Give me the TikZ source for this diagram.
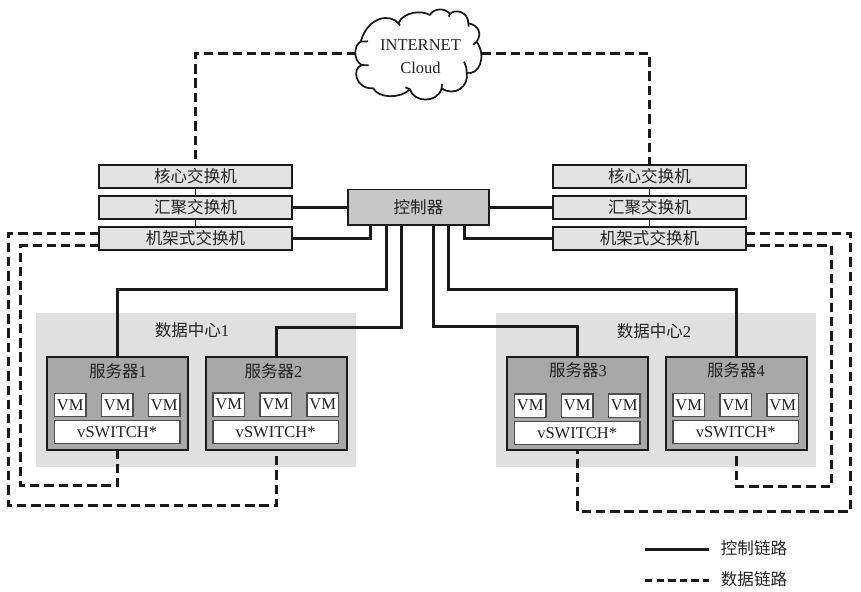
\documentclass[tikz,border=0pt]{standalone}
\usepackage{fontspec}
\setmainfont{Liberation Serif}
\newfontfamily\cjkf{Noto Sans CJK SC}
\newcommand{\zh}[1]{{\cjkf #1}}
\definecolor{ink}{HTML}{1A1A1A}
\definecolor{txt}{HTML}{222222}
\tikzset{
  sz/.style 2 args={minimum width=#1*0.75pt,minimum height=#2*0.75pt,inner sep=0pt,outer sep=0pt},
  sw/.style={draw=ink,line width=1.6pt,fill=#1,sz={193}{23},text=txt,font=\fontsize{12.4}{14}\selectfont},
  sw/.default={black!11},
  ctrlbox/.style={draw=ink,line width=1.3pt,fill=black!22,sz={141}{35.5},text=txt,font=\fontsize{12.4}{14}\selectfont},
  region/.style={fill=black!12,draw=none,sz={319.5}{153.5}},
  server/.style={draw=ink,line width=1.5pt,fill=black!34,sz={141}{93}},
  vm/.style={draw=black!70,line width=0.9pt,fill=white,sz={31.5}{23.3},text=txt,font=\fontsize{12.4}{14}\selectfont},
  vsw/.style={draw=black!70,line width=0.9pt,fill=white,sz={125.5}{23},text=txt,font=\fontsize{12.4}{14}\selectfont},
  lab/.style={text=txt,inner sep=0pt,font=\fontsize{12.4}{14}\selectfont},
  ctl/.style={draw=ink,line width=2.2pt,line join=miter},
  dat/.style={draw=ink,line width=2.2pt,dash pattern=on 7pt off 3.7pt,line join=miter},
  thin/.style={draw=ink,line width=0.6pt}
}
\begin{document}
\begin{tikzpicture}[x=0.75pt,y=-0.75pt]
\useasboundingbox (0,0) rectangle (861,592);
\fill[white] (0,0) rectangle (861,592);

% regions
\node[region] (dc1) at (195.75,389.75) {};
\node[region] (dc2) at (655.85,390) {};
\node[lab] (dc1t) at (192,330.5) {\zh{数据中心}1};
\node[lab] (dc2t) at (654,331) {\zh{数据中心}2};

% switches
\node[sw] (c1) at (195.5,176.5) {\zh{核心交换机}};
\node[sw] (a1) at (195.5,207.5) {\zh{汇聚交换机}};
\node[sw] (r1) at (195.5,238.5) {\zh{机架式交换机}};
\node[sw] (c2) at (649.5,176.5) {\zh{核心交换机}};
\node[sw] (a2) at (649.5,207.5) {\zh{汇聚交换机}};
\node[sw] (r2) at (649.5,238.5) {\zh{机架式交换机}};
\node[ctrlbox] (ctrl) at (418.5,207.3) {\zh{控制器}};

% servers
\node[server] (s1) at (117.5,403.5) {};
\node[server] (s2) at (276.5,403.5) {};
\node[server] (s3) at (577.5,403.5) {};
\node[server] (s4) at (736.5,403.5) {};
\node[lab] (s1t) at (118,371.5) {\zh{服务器}1};
\node[lab] (s2t) at (273.5,371) {\zh{服务器}2};
\node[lab] (s3t) at (578,370.5) {\zh{服务器}3};
\node[lab] (s4t) at (736,370.5) {\zh{服务器}4};

\node[vm] (v11) at (70.2,405.2) {VM};
\node[vm] (v12) at (117.2,405.2) {VM};
\node[vm] (v13) at (164.2,405.2) {VM};
\node[vsw] (w1) at (117.2,432.2) {vSWITCH*};
\node[vm] (v21) at (228.7,404.7) {VM};
\node[vm] (v22) at (275.7,404.7) {VM};
\node[vm] (v23) at (322.7,404.7) {VM};
\node[vsw] (w2) at (275.7,431.7) {vSWITCH*};
\node[vm] (v31) at (530.2,405.7) {VM};
\node[vm] (v32) at (577.2,405.7) {VM};
\node[vm] (v33) at (624.2,405.7) {VM};
\node[vsw] (w3) at (577.2,432.7) {vSWITCH*};
\node[vm] (v41) at (688.7,405.2) {VM};
\node[vm] (v42) at (735.7,405.2) {VM};
\node[vm] (v43) at (782.7,405.2) {VM};
\node[vsw] (w4) at (735.7,432.2) {vSWITCH*};

% cloud
\begin{scope}[shift={(340,0)},x=0.25pt,y=-0.25pt]
\draw[ink,line width=1.3pt,fill=white,line join=round]
 (62,125) .. controls (42,135) and (38,180) .. (65,195)
 .. controls (35,205) and (45,268) .. (100,265)
 .. controls (115,295) and (180,297) .. (210,268)
 .. controls (220,307) and (292,312) .. (305,265)
 .. controls (345,292) and (388,258) .. (380,218)
 .. controls (415,228) and (442,172) .. (410,125)
 .. controls (427,100) and (415,75) .. (385,70)
 .. controls (385,35) and (345,25) .. (330,42)
 .. controls (315,22) and (280,25) .. (270,45)
 .. controls (245,30) and (190,35) .. (175,70)
 .. controls (155,42) and (85,45) .. (62,125) -- cycle;
\draw[ink,line width=1.3pt] (62,125) -- (84,124);
\draw[ink,line width=1.3pt] (65,195) -- (86,196);
\draw[ink,line width=1.3pt] (175,70) -- (180,76);
\draw[ink,line width=1.3pt] (210,268) -- (196,262);
\draw[ink,line width=1.3pt] (305,265) -- (306,252);
\draw[ink,line width=1.3pt] (380,218) .. controls (380,205) and (378,195) .. (372,185);
\draw[ink,line width=1.3pt] (410,125) -- (400,134);
\draw[ink,line width=1.3pt] (385,70) -- (386,80);
\draw[ink,line width=1.3pt] (330,42) -- (326,50);
\end{scope}
\node[lab,align=center,font=\fontsize{12.4}{17.25}\selectfont] (cloud) at (420.5,56.5) {INTERNET\\Cloud};
\coordinate (cl) at (356,53.5);
\coordinate (cr) at (482,53.5);

% elbows
\coordinate (e1) at (117.5,289.5);
\coordinate (e2) at (276.5,327.5);
\coordinate (e3) at (577.5,326.5);
\coordinate (e4) at (736.5,289.5);
\coordinate (x1) at (386.5,225);
\coordinate (x2) at (401.5,225);
\coordinate (x3) at (433.5,225);
\coordinate (x4) at (448.5,225);
\coordinate (xr1) at (370.5,225);
\coordinate (xr2) at (464.5,225);

% control links
\draw[ctl] (a1.east) -- (ctrl.west |- a1.east);
\draw[ctl] (a2.west) -- (ctrl.east |- a2.west);
\draw[ctl] (r1.east) -| (xr1);
\draw[ctl] (r2.west) -| (xr2);
\draw[ctl] (x1) |- (e1) -- (s1.north);
\draw[ctl] (x2) |- (e2) -- (s2.north);
\draw[ctl] (x3) |- (e3) -- (s3.north);
\draw[ctl] (x4) |- (e4) -- (s4.north);

% stack links
\draw[thin] (c1.south) -- (a1.north);
\draw[thin] (a1.south) -- (r1.north);
\draw[thin] (c2.south) -- (a2.north);
\draw[thin] (a2.south) -- (r2.north);

% data links
\draw[dat] (cl) -| (c1.north);
\draw[dat] (cr) -| (c2.north);
\coordinate (d1) at (20.5,485.5);
\coordinate (d2) at (8.5,505.5);
\coordinate (d3) at (850.5,511.5);
\coordinate (d4) at (831.5,486.5);
\coordinate (rl1) at (99,233.5);
\coordinate (rl2) at (99,245.5);
\coordinate (rr1) at (746,233.5);
\coordinate (rr2) at (746,245.5);
\draw[dat] (rl2) -| (d1) -| (s1.south);
\draw[dat] (rl1) -| (d2) -| (s2.south);
\draw[dat] (rr1) -| (d3) -| (s3.south);
\draw[dat] (rr2) -| (d4) -| (s4.south);

% legend
\coordinate (la) at (645,549.5);
\coordinate (lb) at (709,549.5);
\coordinate (lc) at (645,580.5);
\coordinate (ld) at (709,580.5);
\draw[ctl] (la) -- (lb);
\draw[dat,line width=1.9pt,dash pattern=on 5.5pt off 3.2pt] (lc) -- (ld);
\node[lab] (l1) at (754,548) {\zh{控制链路}};
\node[lab] (l2) at (754,579.5) {\zh{数据链路}};
\end{tikzpicture}
\end{document}
